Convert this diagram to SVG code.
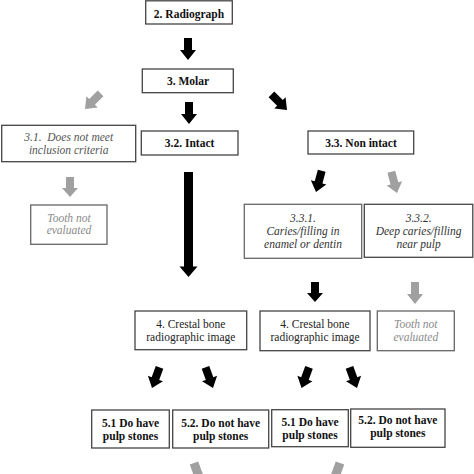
<svg xmlns="http://www.w3.org/2000/svg" xmlns:xlink="http://www.w3.org/1999/xlink" width="474" height="474" viewBox="0 0 474 474">
<style>
rect.box{fill:#fff;stroke:#444;stroke-width:1.3}
rect.lite{stroke:#666}
text{font-family:"Liberation Serif","Times New Roman",serif;font-size:11.5px;text-anchor:middle}
.b{font-weight:bold;fill:#111}
.r{fill:#222}
.i{font-style:italic;fill:#333}
.g{font-style:italic;fill:#555}
.lg{font-style:italic;fill:#8a8a8a}
.blk{fill:#000}
.gry{fill:#a0a0a0}
</style>
<defs>
<path id="ar" d="M-4,-22 H4 V-10 H8 L0,0 L-8,-10 H-4 Z"/>
<path id="ar20" d="M-4,-20 H4 V-9 H8 L0,0 L-8,-9 H-4 Z"/>
<path id="sh" d="M-4.5,0 H4.5 V40 H-4.5 Z"/>
</defs>
<rect width="474" height="474" fill="#fff"/>
<g id="connectors">
<use href="#ar" class="blk" transform="translate(188,60)"/>
<use href="#ar" class="blk" transform="translate(189,124)"/>
<use href="#ar" class="gry" transform="translate(85,109) rotate(45)"/>
<use href="#ar" class="blk" transform="translate(287,110) rotate(-45)"/>
<use href="#ar20" class="gry" transform="translate(70,197)"/>
<path class="blk" d="M184,172 H193 V266.5 H197.5 L188.5,277 L179.5,266.5 H184 Z"/>
<use href="#ar" class="blk" transform="translate(316,192) rotate(15)"/>
<use href="#ar" class="gry" transform="translate(397,193) rotate(-15)"/>
<use href="#ar20" class="blk" transform="translate(315,302)"/>
<use href="#ar" class="gry" transform="translate(415,304)"/>
<use href="#ar" class="blk" transform="translate(152,388) rotate(20)"/>
<use href="#ar" class="blk" transform="translate(213,388) rotate(-20)"/>
<use href="#ar" class="blk" transform="translate(301.5,388) rotate(20)"/>
<use href="#ar" class="blk" transform="translate(357,388) rotate(-20)"/>
<use href="#sh" class="gry" transform="translate(194,463) rotate(-20)"/>
<use href="#sh" class="gry" transform="translate(340,463) rotate(20)"/>
</g>
<g id="n2"><rect class="box" x="145.7" y="0.8" width="86.6" height="23.2"/><text class="b" x="189" y="17.8">2. Radiograph</text></g>
<g id="n3"><rect class="box" x="142.3" y="69" width="91" height="23.7"/><text class="b" x="188" y="84.6">3. Molar</text></g>
<g id="n31"><rect class="box" x="1.7" y="125.3" width="134" height="36.4"/><text class="g" x="68.7" y="141" xml:space="preserve">3.1.  Does not meet</text><text class="g" x="68.7" y="153.6">inclusion criteria</text></g>
<g id="n32"><rect class="box" x="141.3" y="131" width="96.7" height="24"/><text class="b" x="189.6" y="147">3.2. Intact</text></g>
<g id="n33"><rect class="box" x="308" y="131" width="105.7" height="23"/><text class="b" x="361" y="147">3.3. Non intact</text></g>
<g id="tne1"><rect class="box lite" x="30.7" y="205" width="76.3" height="39.3"/><text class="lg" x="69" y="221.6">Tooth not</text><text class="lg" x="69" y="234.2">evaluated</text></g>
<g id="n331"><rect class="box lite" x="244.3" y="204.3" width="117.4" height="54"/><text class="i" x="303" y="222">3.3.1.</text><text class="i" x="303" y="235.4">Caries/filling in</text><text class="i" x="303" y="248.4">enamel or dentin</text></g>
<g id="n332"><rect class="box" x="364.3" y="204.3" width="108.5" height="53"/><text class="i" x="418.6" y="222">3.3.2.</text><text class="i" x="418.6" y="235.4">Deep caries/filling</text><text class="i" x="418.6" y="248.4">near pulp</text></g>
<g id="cb1"><rect class="box" x="135" y="311" width="111.7" height="38.7"/><text class="r" x="190.8" y="327.6">4. Crestal bone</text><text class="r" x="190.8" y="341">radiographic image</text></g>
<g id="cb2"><rect class="box" x="260" y="311" width="110" height="39.7"/><text class="r" x="315" y="327.8">4. Crestal bone</text><text class="r" x="315" y="341.2">radiographic image</text></g>
<g id="tne2"><rect class="box lite" x="377.3" y="311" width="77" height="39.7"/><text class="lg" x="415.8" y="328">Tooth not</text><text class="lg" x="415.8" y="341">evaluated</text></g>
<g id="p1"><rect class="box" x="91.7" y="410" width="77.6" height="38"/><text class="b" x="130.5" y="427">5.1 Do have</text><text class="b" x="130.5" y="439.6">pulp stones</text></g>
<g id="p2"><rect class="box" x="172.7" y="410" width="96" height="38"/><text class="b" x="220.7" y="427">5.2. Do not have</text><text class="b" x="220.7" y="439.6">pulp stones</text></g>
<g id="p3"><rect class="box" x="271.7" y="409.7" width="76.6" height="37"/><text class="b" x="310" y="426.4">5.1 Do have</text><text class="b" x="310" y="439.2">pulp stones</text></g>
<g id="p4"><rect class="box" x="350.7" y="409" width="94.3" height="38.3"/><text class="b" x="397.8" y="423.8">5.2. Do not have</text><text class="b" x="397.8" y="436.7">pulp stones</text></g>
</svg>
